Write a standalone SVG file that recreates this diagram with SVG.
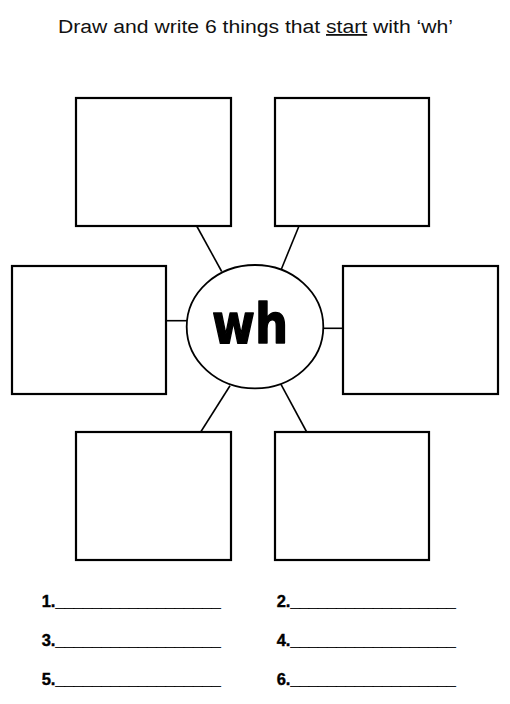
<svg xmlns="http://www.w3.org/2000/svg" width="510" height="704" viewBox="0 0 510 704">
<style>
.box{fill:#fff;stroke:#000;stroke-width:2.2}
.conn{stroke:#000;stroke-width:1.6;fill:none}
.title{font-family:"Liberation Sans","DejaVu Sans",sans-serif;font-size:18px;fill:#111}
.center{font-family:"DejaVu Sans","Liberation Sans",sans-serif;font-weight:bold;font-size:56px;fill:#000;stroke:#000;stroke-width:1.6;stroke-linejoin:round}
.item{font-family:"Liberation Sans","DejaVu Sans",sans-serif;font-weight:bold;font-size:17px;fill:#000;stroke:#000;stroke-width:0.4}
</style>
<rect width="510" height="704" fill="#fff"/>
<text class="title" x="58" y="33" textLength="395" lengthAdjust="spacingAndGlyphs">Draw and write 6 things that <tspan text-decoration="underline">start</tspan> with ‘wh’</text>
<g id="connectors">
<line class="conn" x1="196.7" y1="226" x2="221.7" y2="271.5"/>
<line class="conn" x1="299" y1="226" x2="281" y2="270"/>
<line class="conn" x1="166" y1="320.7" x2="187" y2="320.7"/>
<line class="conn" x1="323" y1="328.3" x2="343" y2="328.3"/>
<line class="conn" x1="230" y1="385.7" x2="200.7" y2="432"/>
<line class="conn" x1="281" y1="384.3" x2="306.7" y2="432"/>
</g>
<g id="box-top-left"><rect class="box" x="76" y="98" width="155" height="128"/></g>
<g id="box-top-right"><rect class="box" x="275" y="98" width="154" height="128"/></g>
<g id="box-mid-left"><rect class="box" x="12" y="266" width="154" height="128"/></g>
<g id="box-mid-right"><rect class="box" x="343" y="266" width="155" height="128"/></g>
<g id="box-bottom-left"><rect class="box" x="76" y="432" width="155" height="128"/></g>
<g id="box-bottom-right"><rect class="box" x="275" y="432" width="154" height="128"/></g>
<g id="center">
<ellipse cx="255" cy="326.7" rx="68.3" ry="61.7" fill="#fff" stroke="#000" stroke-width="1.8"/>
<text class="center" x="212" y="343" textLength="76" lengthAdjust="spacingAndGlyphs">wh</text>
</g>
<g id="list">
<text class="item" x="41.7" y="607" textLength="179" lengthAdjust="spacingAndGlyphs">1.__________________</text>
<text class="item" x="276.7" y="607" textLength="179" lengthAdjust="spacingAndGlyphs">2.__________________</text>
<text class="item" x="41.7" y="646" textLength="179" lengthAdjust="spacingAndGlyphs">3.__________________</text>
<text class="item" x="276.7" y="646" textLength="179" lengthAdjust="spacingAndGlyphs">4.__________________</text>
<text class="item" x="41.7" y="685" textLength="179" lengthAdjust="spacingAndGlyphs">5.__________________</text>
<text class="item" x="276.7" y="685" textLength="179" lengthAdjust="spacingAndGlyphs">6.__________________</text>
</g>
</svg>
